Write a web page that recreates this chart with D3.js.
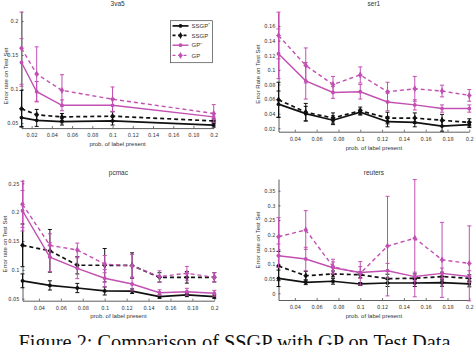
<!DOCTYPE html>
<html>
<head>
<meta charset="utf-8">
<script src="https://cdn.jsdelivr.net/npm/d3@7/dist/d3.min.js"></script>
<style>
  html, body { margin: 0; padding: 0; background: #fff; }
  svg { display: block; }
</style>
</head>
<body>
<svg id="fig" width="474" height="345" font-family="'Liberation Sans', Arial, sans-serif"></svg>
<script>
// ---- data: error rate on the test set vs. probability of a label being present ----
const seriesNames = ["SSGP", "SSGP", "GP", "GP"];
const seriesStar = [true, false, true, false];

// 3va5
const x3va5 = [0.01, 0.025, 0.05, 0.1, 0.2];
const ssgpStar3va5 = [0.058, 0.054, 0.052, 0.053, 0.047];
const ssgpStarErr3va5 = [0.013, 0.009, 0.005, 0.006, 0.003];
const ssgp3va5 = [0.071, 0.062, 0.059, 0.060, 0.053];
const ssgpErr3va5 = [0.027, 0.008, 0.005, 0.007, 0.003];
const gpStar3va5 = [0.139, 0.096, 0.076, 0.076, 0.059];
const gpStarErr3va5 = [0.035, 0.015, 0.008, 0.010, 0.004];
const gp3va5 = [0.160, 0.122, 0.098, 0.085, 0.064];
const gpErr3va5 = [0.053, 0.040, 0.023, 0.018, 0.013];
const yTicks3va5 = [0.05, 0.1, 0.15, 0.2];

// ser1
const xSer1 = [0.025, 0.05, 0.075, 0.1, 0.125, 0.15, 0.175, 0.2];
const ssgpStarSer1 = [0.053, 0.040, 0.031, 0.042, 0.029, 0.028, 0.023, 0.025];
const ssgpStarErrSer1 = [0.018, 0.010, 0.006, 0.004, 0.007, 0.006, 0.007, 0.004];
const ssgpSer1 = [0.059, 0.042, 0.034, 0.044, 0.034, 0.034, 0.031, 0.028];
const ssgpErrSer1 = [0.024, 0.012, 0.007, 0.005, 0.008, 0.007, 0.008, 0.005];
const gpStarSer1 = [0.122, 0.085, 0.069, 0.070, 0.056, 0.052, 0.047, 0.047];
const gpStarErrSer1 = [0.034, 0.025, 0.008, 0.010, 0.012, 0.007, 0.005, 0.005];
const gpSer1 = [0.147, 0.106, 0.080, 0.093, 0.070, 0.074, 0.071, 0.065];
const gpErrSer1 = [0.032, 0.024, 0.011, 0.011, 0.013, 0.017, 0.008, 0.008];
const yTicksSer1 = [0.02, 0.04, 0.06, 0.08, 0.1, 0.12, 0.14, 0.16];

// pcmac
const xPcmac = [0.025, 0.05, 0.075, 0.1, 0.125, 0.15, 0.175, 0.2];
const ssgpStarPcmac = [0.081, 0.073, 0.0685, 0.0634, 0.063, 0.0535, 0.0565, 0.0535];
const ssgpStarErrPcmac = [0.012, 0.008, 0.008, 0.007, 0.004, 0.003, 0.003, 0.003];
const ssgpPcmac = [0.1425, 0.133, 0.108, 0.108, 0.1075, 0.087, 0.087, 0.087];
const ssgpErrPcmac = [0.037, 0.037, 0.015, 0.029, 0.022, 0.008, 0.010, 0.008];
const gpStarPcmac = [0.2025, 0.122, 0.1027, 0.0854, 0.0755, 0.0604, 0.062, 0.0594];
const gpStarErrPcmac = [0.035, 0.025, 0.018, 0.015, 0.012, 0.005, 0.006, 0.005];
const gpPcmac = [0.2136, 0.1425, 0.1344, 0.110, 0.1067, 0.0883, 0.094, 0.0871];
const gpErrPcmac = [0.040, 0.020, 0.012, 0.015, 0.020, 0.010, 0.012, 0.008];
const yTicksPcmac = [0.05, 0.1, 0.15, 0.2, 0.25];

// reuters
const xReuters = [0.025, 0.05, 0.075, 0.1, 0.125, 0.15, 0.175, 0.2];
const ssgpStarReuters = [0.051, 0.0375, 0.041, 0.0317, 0.035, 0.035, 0.036, 0.032];
const ssgpStarErrReuters = [0.028, 0.008, 0.010, 0.005, 0.012, 0.012, 0.012, 0.010];
const ssgpReuters = [0.093, 0.060, 0.066, 0.063, 0.050, 0.051, 0.057, 0.051];
const ssgpErrReuters = [0.050, 0.015, 0.010, 0.010, 0.015, 0.015, 0.015, 0.012];
const gpStarReuters = [0.128, 0.117, 0.087, 0.071, 0.077, 0.057, 0.068, 0.057];
const gpStarErrReuters = [0.040, 0.040, 0.020, 0.020, 0.025, 0.015, 0.018, 0.020];
const gpReuters = [0.193, 0.216, 0.091, 0.068, 0.161, 0.188, 0.114, 0.102];
const gpErrReuters = [0.065, 0.066, 0.025, 0.040, 0.170, 0.200, 0.128, 0.128];
const yTicksReuters = [0, 0.05, 0.1, 0.15, 0.2, 0.25, 0.3, 0.35];

const xTicks = [0.02, 0.04, 0.06, 0.08, 0.1, 0.12, 0.14, 0.16, 0.18, 0.2];
const xLabel = "prob. of label present";
const caption = "Figure 2: Comparison of SSGP with GP on Test Data";

// ---- layout of the four panels ----
const BLACK = "#111", MAGENTA = "#c24fb2";
const styles = [
  { color: BLACK,   dash: null,  width: 1.7, marker: "circle" },
  { color: BLACK,   dash: "4,3", width: 1.7, marker: "diamond" },
  { color: MAGENTA, dash: null,  width: 1.4, marker: "circle" },
  { color: MAGENTA, dash: "4,3", width: 1.4, marker: "diamond" }
];

const panels = [
  { title: "3va5", ylab: "Error rate on Test Set", x: x3va5, xd: [0.01, 0.2], xr: [21.5, 213.7],
    yd: [0.0425, 0.215], yr: [128.1, 10.8], yTicks: yTicks3va5, xTicks: xTicks,
    series: [[ssgpStar3va5, ssgpStarErr3va5], [ssgp3va5, ssgpErr3va5], [gpStar3va5, gpStarErr3va5], [gp3va5, gpErr3va5]],
    titleY: 5.5, xlabY: 145.5, ylabX: 5.5, ylabY: 76, legend: true },
  { title: "ser1", ylab: "Error Rate on Test Set", x: xSer1, xd: [0.025, 0.2], xr: [278.5, 469.3],
    yd: [0.0153, 0.1796], yr: [131.7, 11.7], yTicks: yTicksSer1, xTicks: xTicks.slice(1),
    series: [[ssgpStarSer1, ssgpStarErrSer1], [ssgpSer1, ssgpErrSer1], [gpStarSer1, gpStarErrSer1], [gpSer1, gpErrSer1]],
    titleY: 5.5, xlabY: 149.5, ylabX: 258, ylabY: 74, legend: false },
  { title: "pcmac", ylab: "Error rate on Test Set", x: xPcmac, xd: [0.025, 0.2], xr: [22.5, 214.3],
    yd: [0.0465, 0.257], yr: [300.7, 179.3], yTicks: yTicksPcmac, xTicks: xTicks.slice(1),
    series: [[ssgpStarPcmac, ssgpStarErrPcmac], [ssgpPcmac, ssgpErrPcmac], [gpStarPcmac, gpStarErrPcmac], [gpPcmac, gpErrPcmac]],
    titleY: 175, xlabY: 318, ylabX: 5, ylabY: 244, legend: false },
  { title: "reuters", ylab: "Error rate on Test Set", x: xReuters, xd: [0.025, 0.2], xr: [278.5, 469.3],
    yd: [-0.023, 0.39], yr: [300, 179], yTicks: yTicksReuters, xTicks: xTicks.slice(1),
    series: [[ssgpStarReuters, ssgpStarErrReuters], [ssgpReuters, ssgpErrReuters], [gpStarReuters, gpStarErrReuters], [gpReuters, gpErrReuters]],
    titleY: 175, xlabY: 318, ylabX: 258, ylabY: 240, legend: false }
];

const svg = d3.select("#fig");
const fmt = d => String(+d.toFixed(3));
const TICK_FONT = "'Liberation Sans Narrow', 'DejaVu Sans Condensed', 'Liberation Sans', sans-serif";
const TICK_FS = 5.6;
const LAB_FS = 6;
const INK = "#333";

function drawMarker(g, shape, cx, cy, color) {
  if (shape === "circle") {
    g.append("circle").attr("cx", cx).attr("cy", cy).attr("r", 1.9).attr("fill", color);
  } else {
    g.append("path").attr("d", d3.symbol(d3.symbolDiamond, 14)())
      .attr("transform", `translate(${cx},${cy})`).attr("fill", color);
    g.append("path").attr("d", `M${cx - 2.4},${cy}H${cx + 2.4}M${cx},${cy - 2.4}V${cy + 2.4}`)
      .attr("stroke", color).attr("stroke-width", 0.8);
  }
}

panels.forEach(p => {
  const x = d3.scaleLinear().domain(p.xd).range(p.xr);
  const y = d3.scaleLinear().domain(p.yd).range(p.yr);
  const g = svg.append("g");

  // axes: left and bottom only, ticks pointing inward
  const ay = g.append("g").attr("transform", `translate(${p.xr[0]},0)`)
    .call(d3.axisLeft(y).tickValues(p.yTicks).tickFormat(fmt).tickSizeInner(-2).tickSizeOuter(0).tickPadding(3));
  const ax = g.append("g").attr("transform", `translate(0,${p.yr[0]})`)
    .call(d3.axisBottom(x).tickValues(p.xTicks).tickFormat(fmt).tickSizeInner(-2).tickSizeOuter(0).tickPadding(5));
  [ax, ay].forEach(a => {
    a.attr("font-family", TICK_FONT).attr("font-size", TICK_FS);
    a.select(".domain").attr("stroke", INK).attr("stroke-width", 0.8);
    a.selectAll(".tick line").attr("stroke", INK).attr("stroke-width", 0.7);
    a.selectAll("text").attr("fill", INK);
  });

  // series: error bars, line, markers
  p.series.forEach(([vals, errs], si) => {
    const st = styles[si];
    const sg = g.append("g");
    vals.forEach((v, i) => {
      const cx = x(p.x[i]), y0 = y(v - errs[i]), y1 = y(v + errs[i]);
      sg.append("path")
        .attr("d", `M${cx},${y0}V${y1}M${cx - 2},${y0}H${cx + 2}M${cx - 2},${y1}H${cx + 2}`)
        .attr("stroke", st.color).attr("stroke-width", 1).attr("fill", "none");
    });
    const line = d3.line().x((d, i) => x(p.x[i])).y(d => y(d));
    sg.append("path").datum(vals).attr("d", line)
      .attr("fill", "none").attr("stroke", st.color).attr("stroke-width", st.width)
      .attr("stroke-dasharray", st.dash);
    vals.forEach((v, i) => drawMarker(sg, st.marker, x(p.x[i]), y(v), st.color));
  });

  // title and axis labels
  const cxMid = (p.xr[0] + p.xr[1]) / 2;
  g.append("text").attr("x", cxMid).attr("y", p.titleY).attr("text-anchor", "middle")
    .attr("font-size", 6.5).attr("fill", INK).text(p.title);
  g.append("text").attr("x", cxMid).attr("y", p.xlabY).attr("text-anchor", "middle")
    .attr("font-size", LAB_FS).attr("fill", INK).text(xLabel);
  g.append("text").attr("transform", `translate(${p.ylabX},${p.ylabY}) rotate(-90)`)
    .attr("text-anchor", "middle").attr("dy", "0.35em")
    .attr("font-size", LAB_FS).attr("fill", INK).text(p.ylab);

  if (p.legend) {
    const lg = g.append("g");
    lg.append("rect").attr("x", 170.5).attr("y", 20.7).attr("width", 42).attr("height", 42)
      .attr("fill", "#fff").attr("stroke", "#444").attr("stroke-width", 0.7);
    const rows = [25.9, 35.4, 45.2, 55.4];
    styles.forEach((st, si) => {
      const ry = rows[si];
      lg.append("line").attr("x1", 172.5).attr("x2", 188.5).attr("y1", ry).attr("y2", ry)
        .attr("stroke", st.color).attr("stroke-width", st.width).attr("stroke-dasharray", st.dash ? "3,2.5" : null);
      drawMarker(lg, st.marker, 180.5, ry, st.color);
      const t = lg.append("text").attr("x", 191.5).attr("y", ry).attr("dy", "0.35em")
        .attr("font-size", LAB_FS).attr("fill", INK).text(seriesNames[si]);
      if (seriesStar[si]) {
        t.append("tspan").attr("dy", "-0.45em").attr("font-size", 4).text("*");
      }
    });
  }
});

// figure caption (its lower part runs past the bottom edge of the page)
svg.append("text").attr("x", 18.5).attr("y", 349)
  .attr("font-family", "'Liberation Serif', 'Times New Roman', serif")
  .attr("font-size", 22).attr("fill", "#111")
  .attr("textLength", 432).attr("lengthAdjust", "spacingAndGlyphs")
  .text(caption);
</script>
</body>
</html>
